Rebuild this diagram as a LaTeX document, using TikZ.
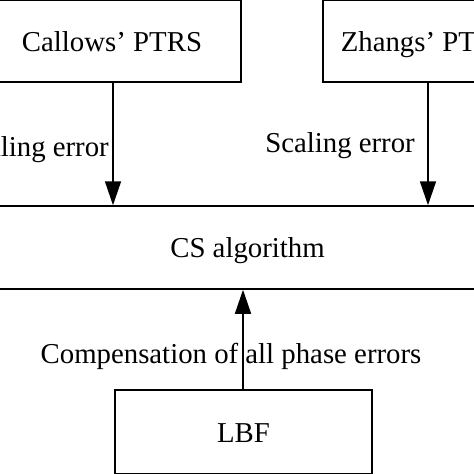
\documentclass[tikz,border=0pt]{standalone}
\usepackage{fontspec}
\setmainfont{Liberation Serif}
\usetikzlibrary{arrows.meta}
\begin{document}
\begin{tikzpicture}[x=1pt,y=-1pt,
  box/.style={draw, line width=1.5pt, inner sep=0pt, text height=20pt, text depth=0pt, font=\fontsize{28.8}{34}\selectfont},
  lbl/.style={anchor=base east, inner sep=0pt, font=\fontsize{28.8}{34}\selectfont},
  arr/.style={line width=1.5pt, -{Triangle[length=24pt,width=16pt]}}]
\useasboundingbox (0,0) rectangle (474,474);
\node[box, minimum width=258pt, minimum height=81.5pt] (callows) at (112,41.25) {Callows’ PTRS};
\node[box, minimum width=206pt, minimum height=81.5pt] (zhangs) at (426,41.25) {Zhangs’ PTRS};
\node[box, minimum width=620pt, minimum height=83pt] (cs) at (247.5,247.5) {CS algorithm};
\node[box, minimum width=257pt, minimum height=84pt] (lbf) at (243.5,432) {LBF};
\coordinate (a1) at (113,0);
\coordinate (a2) at (428,0);
\coordinate (a3) at (243,0);
\draw[arr] (callows.south -| a1) -- (cs.north -| a1);
\draw[arr] (zhangs.south -| a2) -- (cs.north -| a2);
\draw[arr] (lbf.north -| a3) -- (cs.south -| a3);
\node[lbl] (l1) at (109,156.7) {Scaling error};
\node[lbl] (l2) at (415,152.7) {Scaling error};
\node[lbl, anchor=base] (l3) at (231,363) {Compensation of all phase errors};
\end{tikzpicture}
\end{document}
